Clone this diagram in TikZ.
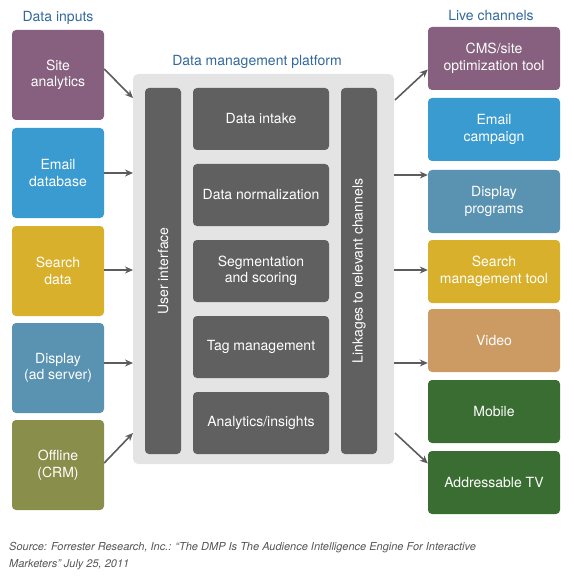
\documentclass[tikz,border=0pt]{standalone}
\usepackage{fontspec}
\setmainfont{TeX Gyre Heros}
\usetikzlibrary{arrows.meta,calc}
\definecolor{cpurple}{HTML}{86607E}
\definecolor{cblue}{HTML}{3A9BD0}
\definecolor{cyellow}{HTML}{D8B02B}
\definecolor{csteel}{HTML}{5A93B1}
\definecolor{colive}{HTML}{8A8E4B}
\definecolor{corange}{HTML}{CC9A63}
\definecolor{cgreen}{HTML}{3A6D31}
\definecolor{cplat}{HTML}{E4E4E4}
\definecolor{cbar}{HTML}{606060}
\definecolor{ctitle}{HTML}{33689C}
\definecolor{carrow}{HTML}{5C5C5C}
\definecolor{csrc}{HTML}{555555}
\tikzset{
  box/.style={rounded corners=4pt, text=white, align=center, inner sep=0pt,
    font=\fontsize{14}{16.5}\selectfont},
  inbox/.style={box, minimum width=92pt, minimum height=90pt},
  outbox/.style={box, minimum width=132pt, minimum height=63pt},
  midbox/.style={box, fill=cbar, minimum width=136pt, minimum height=62pt},
  barbox/.style={box, fill=cbar, minimum width=36pt, minimum height=366pt},
  ttl/.style={text=ctitle, font=\fontsize{14}{16}\selectfont, inner sep=0pt},
  arr/.style={draw=carrow, line width=1.6pt, -{Stealth[length=8pt,width=7pt]}},
}
\begin{document}
\begin{tikzpicture}[x=1pt,y=-1pt]
\useasboundingbox (0,0) rectangle (573,577);
% titles
\node[ttl] (tin) at (58,18) {Data inputs};
\node[ttl] (tdmp) at (257,62) {Data management platform};
\node[ttl] (tlive) at (491,16) {Live channels};
% platform
\node[fill=cplat, rounded corners=5pt, minimum width=261pt, minimum height=390pt, inner sep=0pt] (plat) at (263.5,269) {};
\node[barbox] (ui) at (163,271) {};
\node[rotate=90, text=white, font=\fontsize{14}{16}\selectfont] (uit) at (ui.center) {User interface};
\node[barbox] (lk) at (359,271) {};
\node[rotate=90, text=white, font=\fontsize{14}{16}\selectfont] (lkt) at (lk.center) {Linkages to relevant channels};
\node[midbox] (m1) at (261,119) {Data intake};
\node[midbox] (m2) at (261,195) {Data normalization};
\node[midbox] (m3) at (261,271) {Segmentation\\and scoring};
\node[midbox] (m4) at (261,347) {Tag management};
\node[midbox] (m5) at (261,423) {Analytics/insights};
% inputs
\node[inbox, fill=cpurple] (sa) at (58,75) {Site\\analytics};
\node[inbox, fill=cblue] (ed) at (58,173) {Email\\database};
\node[inbox, fill=cyellow] (sd) at (58,271) {Search\\data};
\node[inbox, fill=csteel] (da) at (58,368) {Display\\(ad server)};
\node[inbox, fill=colive] (of) at (58,465) {Offline\\(CRM)};
% outputs
\node[outbox, fill=cpurple] (cms) at (494,58.5) {CMS/site\\optimization tool};
\node[outbox, fill=cblue] (ec) at (494,129.5) {Email\\campaign};
\node[outbox, fill=csteel] (dp) at (494,201.5) {Display\\programs};
\node[outbox, fill=cyellow] (sm) at (494,271.5) {Search\\management tool};
\node[outbox, fill=corange] (vd) at (494,340.5) {Video};
\node[outbox, fill=cgreen] (mb) at (494,411.5) {Mobile};
\node[outbox, fill=cgreen] (tv) at (494,482.5) {Addressable TV};
% connector end points
\coordinate (pl1) at (133,98);
\coordinate (pl2) at (133,173);
\coordinate (pl3) at (133,270);
\coordinate (pl4) at (133,363);
\coordinate (pl5) at (133,433);
\coordinate (pr1) at (395,100);
\coordinate (pr2) at (394,175);
\coordinate (pr3) at (394,270);
\coordinate (pr4) at (394,363);
\coordinate (pr5) at (395,433);
\coordinate (sae) at ($(sa.east)+(0,-6)$);
\coordinate (ofe) at ($(of.east)+(0,-2)$);
\coordinate (cmsw) at ($(cms.west)+(0,11)$);
\coordinate (tvw) at ($(tv.west)+(0,-19)$);
% arrows
\draw[arr] (sae) -- (pl1);
\draw[arr] (pl2 -| ed.east) -- (pl2);
\draw[arr] (pl3 -| sd.east) -- (pl3);
\draw[arr] (pl4 -| da.east) -- (pl4);
\draw[arr] (ofe) -- (pl5);
\draw[arr] (pr1) -- (cmsw);
\draw[arr] (pr2) -- (pr2 -| dp.west);
\draw[arr] (pr3) -- (pr3 -| sm.west);
\draw[arr] (pr4) -- (pr4 -| vd.west);
\draw[arr] (pr5) -- (tvw);
% source
\node[anchor=north west, align=left, inner sep=0pt, text=csrc,
  font=\fontsize{11}{17}\selectfont\itshape] (src) at (9,542)
  {Source: Forrester Research, Inc.: “The DMP Is The Audience Intelligence Engine For Interactive\\Marketers” July 25, 2011};
\end{tikzpicture}
\end{document}
